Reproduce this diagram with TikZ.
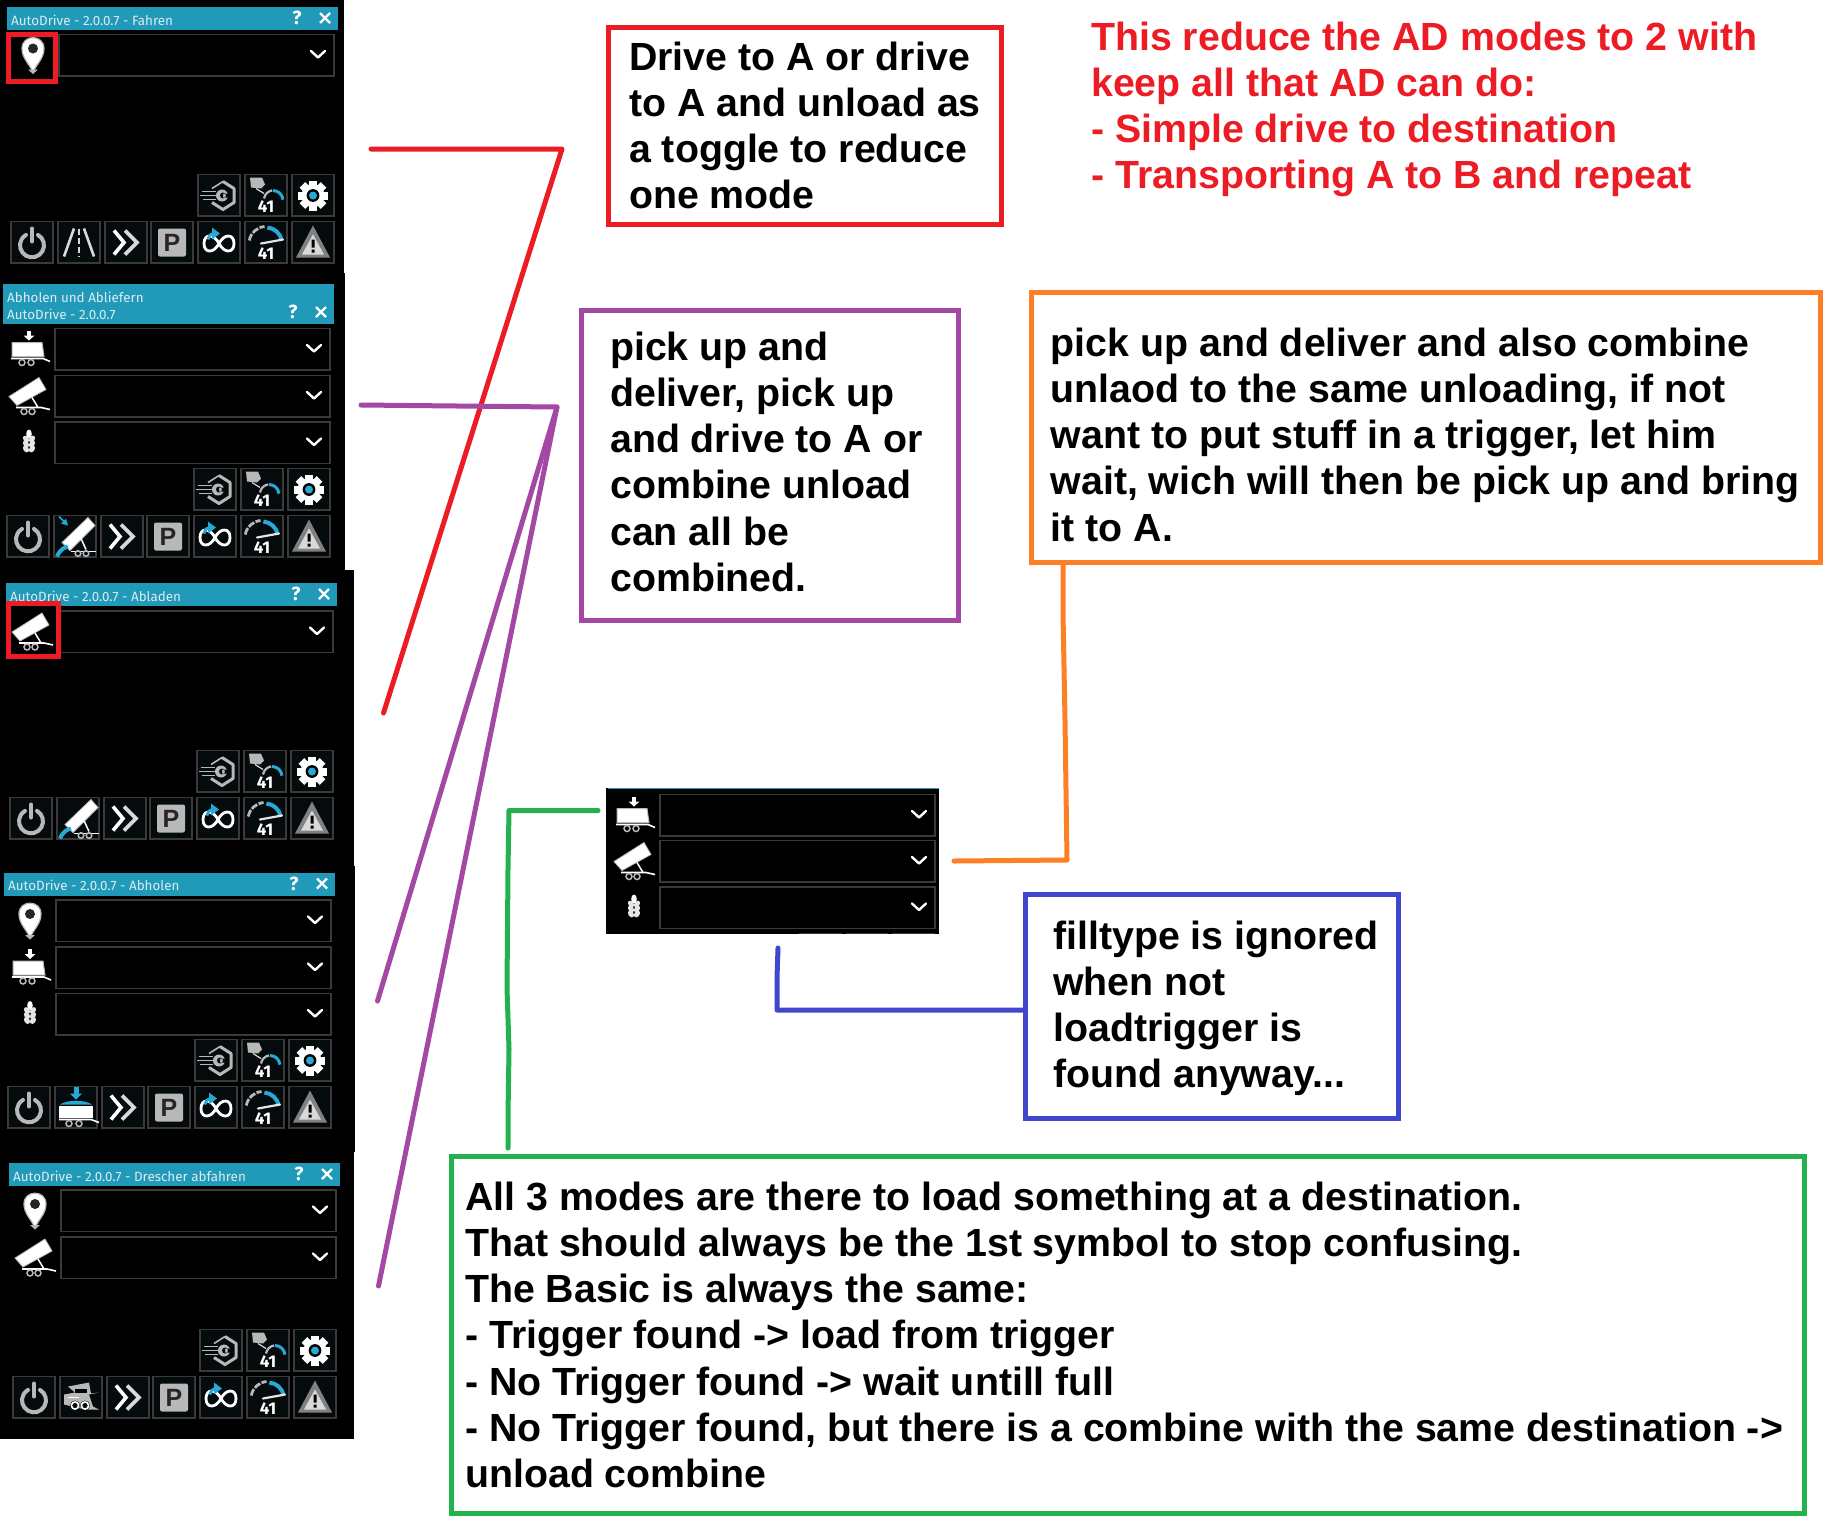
\documentclass[tikz,border=0pt]{standalone}
\usepackage{fontspec}
\setmainfont{Liberation Sans}
\newfontfamily\uifont{Fira Sans}
\definecolor{mspred}{HTML}{ED1C24}
\definecolor{msppurple}{HTML}{A349A4}
\definecolor{msporange}{HTML}{FF7F27}
\definecolor{mspblue}{HTML}{3F48CC}
\definecolor{mspgreen}{HTML}{22B14C}
\definecolor{adhead}{HTML}{209AB8}
\definecolor{adblue}{HTML}{27A9D6}
\definecolor{adline}{HTML}{3A3A3A}
\definecolor{adbtn}{HTML}{050A0C}
\definecolor{adgrey}{HTML}{B8B8B8}
\definecolor{adtext}{HTML}{DCEBF0}
\tikzset{
  framebox/.style={draw=#1,line width=5pt,fill=none,inner sep=0pt,outer sep=0pt,anchor=north west,minimum width=0pt},
  txtblock/.style={anchor=north west,inner sep=0pt,align=left,text=#1,font=\fontsize{39.3}{46.2}\selectfont\bfseries},
  conn/.style={draw=#1,line width=5pt,line cap=round,line join=round},
  headtxt/.style={anchor=base west,inner sep=0pt,text=adtext,font=\uifont\fontsize{13.4}{16}\selectfont},
  dropbox/.style={draw=adline,line width=1.6pt,fill=black},
  btnbox/.style={draw=adline,line width=1.6pt,fill=adbtn},
  whln/.style={draw=white,line width=2.4pt,line cap=round,line join=round},
  nmb/.style={inner sep=0pt,text=white,font=\uifont\bfseries\fontsize{17}{17}\selectfont}
}
\newcommand{\tb}[6]{\node[txtblock=#4] (#3) at (#1,#2-32.34) {\strut #5};}
% ---- icons in local coordinates, centre 0,0, y downward
\newcommand{\icpin}{%
 \fill[white,draw=adgrey,line width=1.2pt] (0,17) .. controls (-3,9) and (-11,3) .. (-11,-7) .. controls (-11,-21.5) and (11,-21.5) .. (11,-7) .. controls (11,3) and (3,9) .. (0,17) -- cycle;
 \fill[black!85] (0,-7) circle[radius=5];
 \fill[adgrey] (-5,14) -- (5,14) -- (0,18.5) -- cycle;}
\newcommand{\ictrailer}{%
 \fill[white] (-2,-19) rectangle (2,-14);
 \fill[white] (-5.5,-14) -- (5.5,-14) -- (0,-9) -- cycle;
 \fill[white,draw=adgrey,line width=1pt] (-17,-7) -- (13,-7) -- (15,7) -- (-17,7) -- cycle;
 \draw[white,line width=1.6pt] (-18,9) -- (14,9) -- (21,12);
 \draw[adgrey,line width=1.5pt] (-7,13) circle[radius=3] (2,13) circle[radius=3];}
\newcommand{\ictipper}{%
 \fill[white,draw=adgrey,line width=.8pt] (-20,0) -- (10,-19) -- (17,-7) -- (-12,9) -- cycle;
 \draw[white,line width=1.5pt] (3,1) -- (9,11);
 \draw[white,line width=1.6pt] (-13,11) -- (12,11) -- (21,13);
 \draw[adgrey,line width=1.5pt] (-5,15) circle[radius=3] (3,15) circle[radius=3];}
\newcommand{\icwheat}{%
 \fill[white] (0,-9) ellipse[x radius=2.8,y radius=4.5];
 \foreach \yy in {-4,1,6}{
  \fill[white!90!black,rotate around={35:(-3,\yy)}] (-3,\yy) ellipse[x radius=2.7,y radius=3.8];
  \fill[white!90!black,rotate around={-35:(3,\yy)}] (3,\yy) ellipse[x radius=2.7,y radius=3.8];}}
\newcommand{\icpower}{\draw[adgrey,line width=4pt,line cap=round] (6,-7.6) arc[start angle=-60,end angle=240,radius=12]; \draw[adgrey,line width=4pt,line cap=round] (0,-14) -- (0,-1);}
\newcommand{\icroad}{%
 \draw[white!85!black,line width=2.6pt] (-15,14) -- (-5,-14) (15,14) -- (5,-14);
 \draw[white!85!black,line width=2.6pt,dash pattern=on 6pt off 3pt] (0,-14) -- (0,14);}
\newcommand{\icchev}{%
 \draw[white,line width=3.6pt,line join=miter] (-12,-12) -- (-2,0) -- (-12,12);
 \draw[white!85!black,line width=3.6pt,line join=miter] (-1,-12) -- (11,0) -- (-1,12);}
\newcommand{\icpark}{%
 \fill[adgrey!100!white,rounded corners=2pt] (-14,-14) rectangle (14,14);
 \node[inner sep=0pt,text=black!85,font=\bfseries\fontsize{25}{25}\selectfont] {P};}
\newcommand{\icinf}{%
 \draw[white,line width=2.8pt] (0,1) .. controls (-5,-9) and (-15,-9) .. (-15,1) .. controls (-15,11) and (-5,11) .. (0,1) .. controls (5,-9) and (15,-9) .. (15,1) .. controls (15,11) and (5,11) .. (0,1);
 \draw[adblue,line width=2.8pt] (-11,-3) .. controls (-10,-7) and (-8,-9) .. (-6,-9);
 \fill[adblue] (-7,-15) -- (1,-9) -- (-7,-3) -- cycle;}
\newcommand{\icgauge}{%
 \draw[adgrey,line width=2.8pt,dash pattern=on 7pt off 1.5pt] (-16.7,-2) arc[start angle=190,end angle=265,radius=17];
 \draw[adblue,line width=4pt] (1.4,-15) arc[start angle=275,end angle=350,radius=16];
 \draw[white!90!black,line width=2.2pt,line cap=round] (-5,1) -- (17,-3);
 \node[nmb] at (0,11.5) {41};}
\newcommand{\icsmallg}{%
 \fill[adgrey] (-16,-18) -- (-4,-18) -- (-1,-11) -- (-5,-7) -- (-15,-8) -- cycle;
 \draw[white!85!black,line width=1.2pt] (-10,-7) -- (-2,-2);
 \draw[adgrey,line width=2.2pt] (-2,3) arc[start angle=190,end angle=260,radius=10];
 \draw[adblue,line width=3pt] (7,-5) arc[start angle=270,end angle=355,radius=10];
 \node[nmb] at (0,11.5) {41};}
\newcommand{\icwarn}{%
 \fill[adgrey!70!black,line join=round] (0,-17) -- (17,15) -- (-17,15) -- cycle;
 \fill[white!85!black] (0,-8) -- (11,12) -- (-11,12) -- cycle;
 \fill[black] (-1.5,-3) rectangle (1.5,5) (-1.5,7) rectangle (1.5,10);}
\newcommand{\icgear}{%
 \foreach \aa in {0,45,...,315}{\fill[white,rotate=\aa] (-4,-15) rectangle (4,-8);}
 \fill[white] (0,0) circle[radius=11.5];
 \fill[black] (0,0) circle[radius=6.4];
 \fill[adblue] (0,0) circle[radius=4];}
\newcommand{\ichex}{%
 \draw[adgrey,line width=3pt,line join=round] (4,-14) -- (15,-7) -- (15,7) -- (4,14) -- (-7,7);
 \draw[adgrey,line width=1.6pt] (-7,-7) -- (4,-14);
 \fill[adgrey] (3,0) circle[radius=6];
 \fill[adbtn] (4,0) circle[radius=3] (4,-2) rectangle (10,2);
 \draw[adgrey,line width=1.5pt] (-17,-4) -- (-3,-4) (-19,0) -- (-3,0) (-16,4) -- (-3,4);}
\newcommand{\iccombine}{%
 \fill[adgrey] (-13,-11) -- (8,-15) -- (10,-4) -- (18,-5) -- (8,-3) -- (12,9) -- (18,12) -- (4,12) -- (-17,7) -- (-17,-3) -- (-6,-5) -- cycle;
 \fill[black] (-6,-9) rectangle (6,-5);
 \draw[white,line width=1.5pt] (-13,0) -- (-2,0);
 \fill[adbtn] (-6,8) circle[radius=5] (4,8) circle[radius=5];
 \draw[white,line width=1.6pt] (-6,8) circle[radius=3.6] (4,8) circle[radius=3.6];}
\newcommand{\ictipblue}{%
 \fill[white,draw=adgrey,line width=.8pt] (-13,6) -- (13,-19) -- (20,-11) -- (-5,14) -- cycle;
 \draw[white,line width=1.5pt] (6,2) -- (11,13);
 \draw[white,line width=1.6pt] (-4,15) -- (21,15);
 \draw[adgrey,line width=1.5pt] (3,17) circle[radius=2.8] (11,17) circle[radius=2.8];
 \draw[adblue,line width=4pt] (-18,20) .. controls (-15,13) and (-11,11) .. (-7,10);}
\newcommand{\ictiparrow}{%
 \ictipblue
 \draw[adblue,line width=1.5pt] (-16,-20) -- (-10,-14);
 \fill[adblue] (-7,-11) -- (-14,-13) -- (-9,-18) -- cycle;}
\newcommand{\icloadblue}{%
 \fill[adblue] (-2.5,-21) rectangle (2.5,-14);
 \fill[adblue] (-6,-14) -- (6,-14) -- (0,-8) -- cycle;
 \fill[adblue] (-16,-3) .. controls (-9,-8) and (9,-8) .. (16,-3) -- cycle;
 \fill[white] (-17,-2) -- (17,-2) -- (17,10) -- (-17,10) -- cycle;
 \draw[white,line width=1.6pt] (-17,12) -- (15,12) -- (23,15);
 \draw[adgrey,line width=1.5pt] (-7,16) circle[radius=3] (3,16) circle[radius=3];}
% ---- panel parts
\newcommand{\adtitle}[4]{\fill[adhead] (#1,#2) rectangle (#1+331,#2+#3);
 \node[anchor=center,inner sep=0pt,text=white,font=\uifont\bfseries\fontsize{19}{19}\selectfont] at (#1+290,#2+#3-12) {?};
 \draw[white,line width=2.2pt] (#1+313,#2+#3-17) -- (#1+323,#2+#3-7) (#1+323,#2+#3-17) -- (#1+313,#2+#3-7);}
\newcommand{\addrop}[3]{% x header, y top, icon
 \draw[dropbox] (#1+52,#2) rectangle (#1+327,#2+41.5);
 \draw[whln] (#1+304,#2+16.5) -- (#1+311,#2+23) -- (#1+318,#2+16.5);
 \begin{scope}[shift={(#1+26,#2+21)}]#3\end{scope}}
\newcommand{\adbtnb}[3]{\draw[btnbox] (#1,#2) rectangle (#1+42,#2+41.5);
 \begin{scope}[shift={(#1+21,#2+21)}]#3\end{scope}}
\newcommand{\adupper}[2]{\adbtnb{#1+191}{#2}{\ichex}\adbtnb{#1+238}{#2}{\icsmallg}\adbtnb{#1+285}{#2}{\icgear}}
\newcommand{\adlower}[3]{\adbtnb{#1+4}{#2}{\icpower}\adbtnb{#1+51}{#2}{#3}\adbtnb{#1+98}{#2}{\icchev}\adbtnb{#1+144}{#2}{\icpark}\adbtnb{#1+191}{#2}{\icinf}\adbtnb{#1+238}{#2}{\icgauge}\adbtnb{#1+285}{#2}{\icwarn}}
\begin{document}
\begin{tikzpicture}[x=1pt,y=-1pt]
\useasboundingbox (0,0) rectangle (1838,1532);
\fill[white] (0,0) rectangle (1838,1532);
% black panels
\fill[black] (0,0) rectangle (344,273);
\fill[black] (0,273) rectangle (345,570);
\fill[black] (0,570) rectangle (354,866);
\fill[black] (0,866) rectangle (355,1152);
\fill[black] (0,1152) rectangle (354,1439);
% panel 1
\adtitle{7}{7}{23}{}
\node[headtxt] (t1) at (11,25) {AutoDrive - 2.0.0.7 - Fahren};
\addrop{7}{34.5}{\icpin}
\adupper{7}{174.5}
\adlower{7}{221.5}{\icroad}
\node[framebox=mspred,minimum width=47pt,minimum height=46.5pt] (hl1) at (8.5,34.5) {};
% panel 2
\adtitle{3}{284}{40}{}
\node[headtxt] (t2a) at (7,302) {Abholen und Abliefern};
\node[headtxt] (t2b) at (7,319) {AutoDrive - 2.0.0.7};
\addrop{3}{328.5}{\ictrailer}
\addrop{3}{375.5}{\ictipper}
\addrop{3}{422}{\icwheat}
\adupper{3}{468.5}
\adlower{3}{515.5}{\ictiparrow}
% panel 3
\adtitle{6}{583}{23}{}
\node[headtxt] (t3) at (10,601) {AutoDrive - 2.0.0.7 - Abladen};
\addrop{6}{611}{\ictipper}
\adupper{6}{750.5}
\adlower{6}{797.5}{\ictipblue}
\node[framebox=mspred,minimum width=50.5pt,minimum height=53pt] (hl2) at (8,603.5) {};
% panel 4
\adtitle{4}{872.5}{23}{}
\node[headtxt] (t4) at (8,890.5) {AutoDrive - 2.0.0.7 - Abholen};
\addrop{4}{900}{\icpin}
\addrop{4}{947}{\ictrailer}
\addrop{4}{993.5}{\icwheat}
\adupper{4}{1039.5}
\adlower{4}{1086.5}{\icloadblue}
% panel 5
\adtitle{9}{1163}{23}{}
\node[headtxt] (t5) at (13,1181) {AutoDrive - 2.0.0.7 - Drescher abfahren};
\addrop{9}{1190}{\icpin}
\addrop{9}{1237}{\ictipper}
\adupper{9}{1329.5}
\adlower{9}{1376.5}{\iccombine}
% cropped panel in the middle
\fill[black] (606,788) rectangle (939,934);
\draw[adhead,line width=1pt] (608,788.5) -- (939,788.5);
\addrop{608}{794.5}{\ictrailer}
\addrop{608}{840.5}{\ictipper}
\addrop{608}{887}{\icwheat}
\draw[adline,line width=1pt] (799,933.5) -- (842,933.5) (846,933.5) -- (888,933.5) (892,933.5) -- (935,933.5);
% frames
\node[framebox=mspred,minimum width=393pt,minimum height=196.5pt] (redbox) at (608.5,27.5) {};
\node[framebox=msppurple,minimum width=377pt,minimum height=310pt] (purplebox) at (581.5,310.5) {};
\node[framebox=msporange,minimum width=789pt,minimum height=270pt] (orangebox) at (1031.5,292.5) {};
\node[framebox=mspblue,minimum width=373pt,minimum height=224pt] (bluebox) at (1025.5,894.5) {};
\node[framebox=mspgreen,minimum width=1353pt,minimum height=357pt] (greenbox) at (451.5,1156.5) {};
% texts
\tb{629}{70}{redtxt}{black}{Drive to A or drive\\to A and unload as\\a toggle to reduce\\one mode}{}
\tb{1091}{50}{notetxt}{mspred}{This reduce the AD modes to 2 with\\keep all that AD can do:\\- Simple drive to destination\\- Transporting A to B and repeat}{}
\tb{610}{360}{purpletxt}{black}{pick up and\\deliver, pick up\\and drive to A or\\combine unload\\can all be\\combined.}{}
\tb{1050.5}{356}{orangetxt}{black}{pick up and deliver and also combine\\unlaod to the same unloading, if not\\want to put stuff in a trigger, let him\\wait, wich will then be pick up and bring\\it to A.}{}
\tb{1053}{949}{bluetxt}{black}{filltype is ignored\\when not\\loadtrigger is\\found anyway...}{}
\tb{465}{1210}{greentxt}{black}{All 3 modes are there to load something at a destination.\\That should always be the 1st symbol to stop confusing.\\The Basic is always the same:\\- Trigger found -> load from trigger\\- No Trigger found -> wait untill full\\- No Trigger found, but there is a combine with the same destination ->\\unload combine}{}
% connector end points
\coordinate (r0) at (371,149); \coordinate (r1) at (562,149); \coordinate (r2) at (383.5,713);
\coordinate (p0) at (361,405); \coordinate (p1) at (409,405.5); \coordinate (p2) at (506,406.5); \coordinate (p3) at (557,407);
\coordinate (p4) at (377.5,1001); \coordinate (p5) at (378.5,1286);
\coordinate (o1) at (1063,613); \coordinate (o2) at (1065,720); \coordinate (o3) at (1067,860); \coordinate (o4) at (1010,860.5); \coordinate (o5) at (954,861);
\coordinate (b0) at (778,948); \coordinate (b1) at (777,978); \coordinate (b2) at (777,1010);
\coordinate (g0) at (598,810.5); \coordinate (g1) at (509,810.5); \coordinate (g2) at (508,869); \coordinate (g3) at (507,988); \coordinate (g4) at (509,1049); \coordinate (g5) at (508,1116); \coordinate (g6) at (508,1148);
% connectors
\draw[conn=mspred] (r0) -- (r1) -- (r2);
\draw[conn=msppurple] (p0) -- (p1) -- (p2) -- (p3) -- (p4);
\draw[conn=msppurple] (p3) -- (p5);
\draw[conn=msporange] (orangebox.south west -| o1) -- (o1) -- (o2) -- (o3) -- (o4) -- (o5);
\draw[conn=mspblue] (b0) -- (b1) -- (b2) -- (bluebox.west |- b2);
\draw[conn=mspgreen] (g0) -- (g1) -- (g2) -- (g3) -- (g4) -- (g5) -- (g6);
\end{tikzpicture}
\end{document}
